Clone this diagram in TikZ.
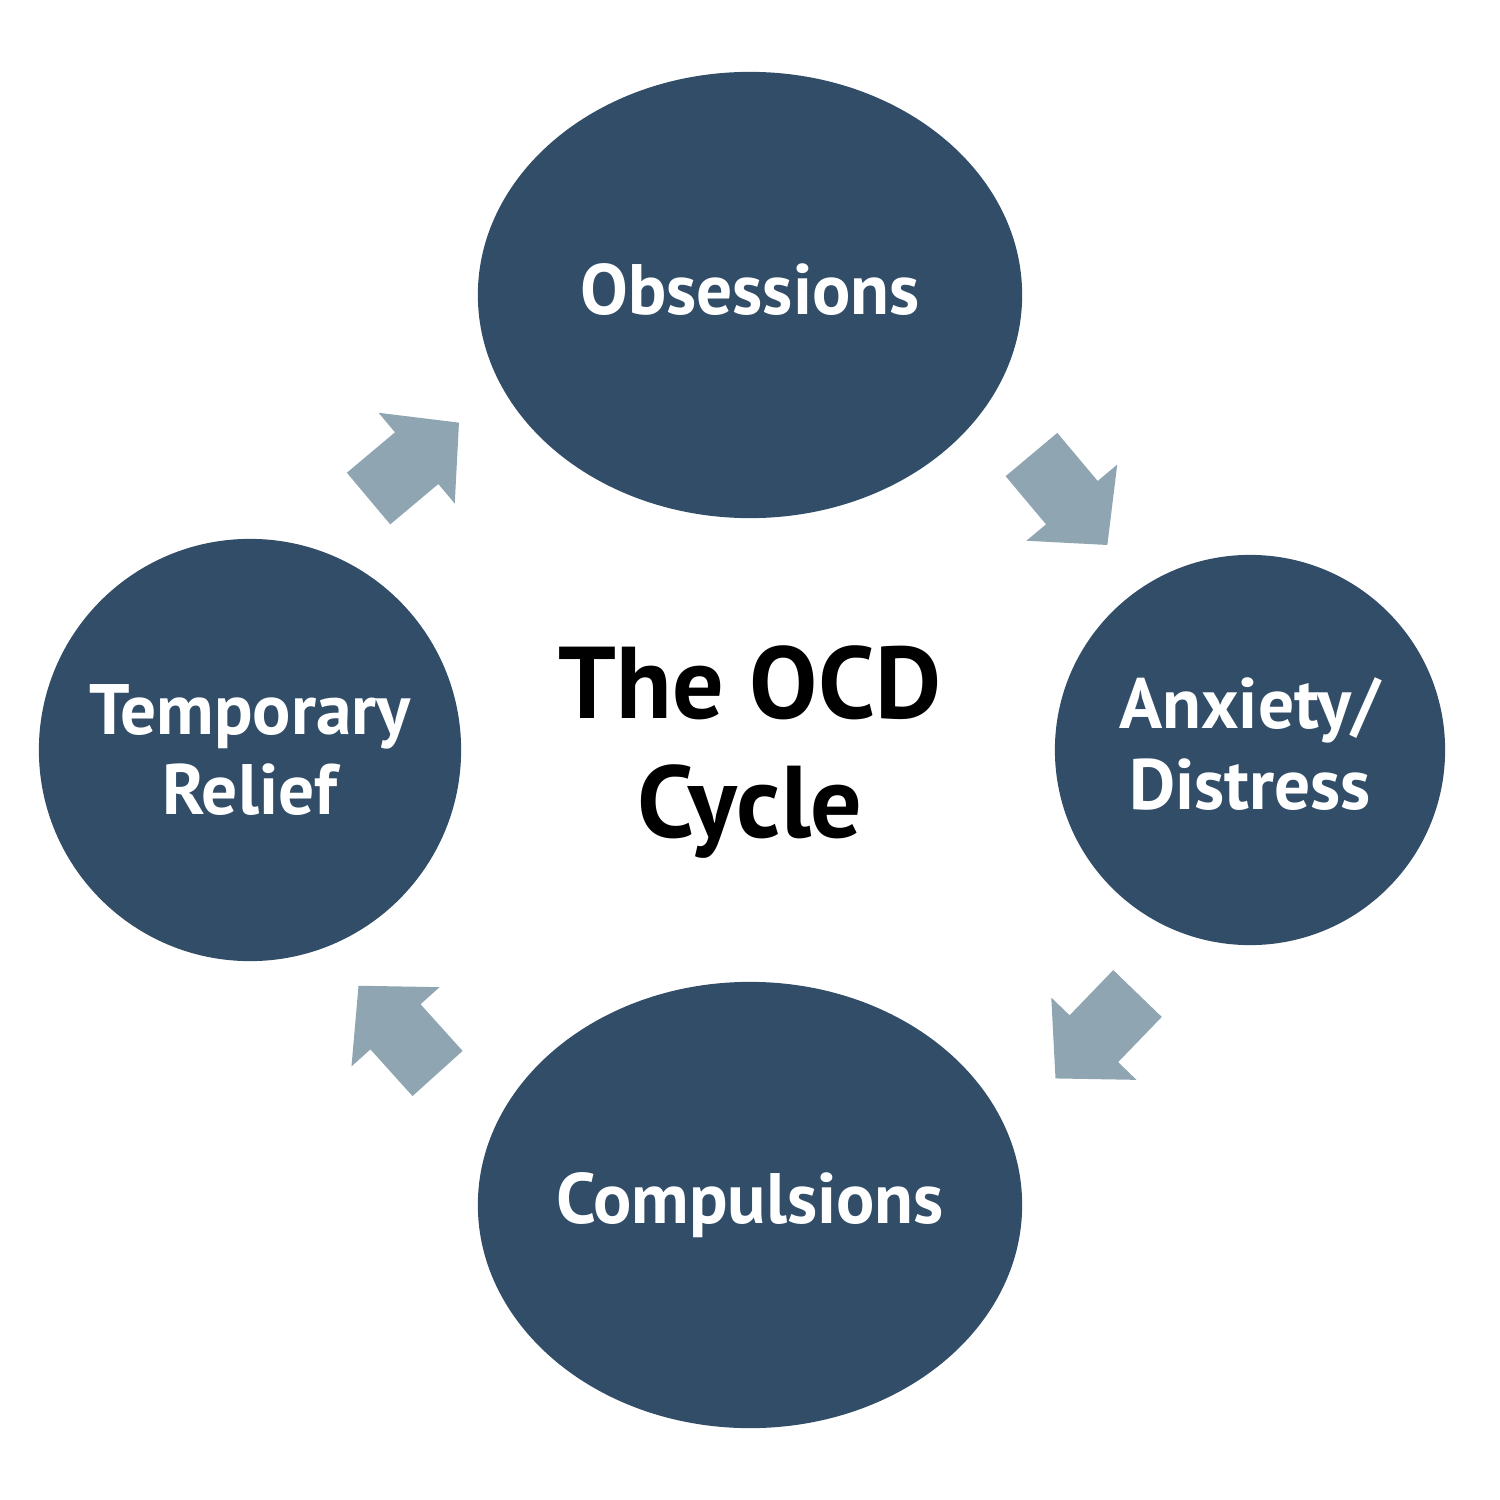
\documentclass[tikz,border=0pt]{standalone}
\usepackage{fontspec}
\setmainfont{PT Sans}
\usetikzlibrary{shapes.geometric,shapes.arrows}
\definecolor{ocdblue}{RGB}{49,77,104}
\definecolor{ocdarrow}{RGB}{143,165,178}

\begin{document}
\begin{tikzpicture}[x=0.01cm,y=-0.01cm,
  stage/.style={fill=ocdblue,ellipse,inner sep=0pt},
  stagetext/.style={text=white,align=center,inner sep=0pt,
    font=\fontsize{20.3}{23}\selectfont\bfseries},
  flow/.style={single arrow,fill=ocdarrow,inner xsep=0pt,inner ysep=0.33cm,anchor=tail,
    minimum height=1.18cm,single arrow head extend=0.255cm,single arrow tip angle=94}]
  \useasboundingbox (0,0) rectangle (1500,1500);

  \node[stage,minimum width=5.44cm,minimum height=4.46cm,
    label={[stagetext,yshift=0.05cm]center:Obsessions}] (obs) at (750,295) {};
  \node[stage,minimum width=3.9cm,minimum height=3.9cm,
    label={[stagetext,yshift=0.06cm]center:{Anxiety/\\Distress}}] (anx) at (1250,750) {};
  \node[stage,minimum width=5.44cm,minimum height=4.46cm,
    label={[stagetext]center:Compulsions}] (comp) at (750,1205) {};
  \node[stage,minimum width=4.22cm,minimum height=4.22cm,
    label={[stagetext]center:{Temporary\\Relief}}] (relief) at (250,750) {};

  \node[align=center,font=\fontsize{29}{34}\selectfont\bfseries] (title) at (750,752) {The OCD\\Cycle};

  % block arrows sit in the gaps, turned along the cycle
  \node[flow,rotate=-50] (obs-anx) at (1031,454) {};
  \node[flow,rotate=-134] (anx-comp) at (1138,993) {};
  \node[flow,rotate=132] (comp-relief) at (438,1074) {};
  \node[flow,rotate=40] (relief-obs) at (368,499) {};
\end{tikzpicture}
\end{document}
